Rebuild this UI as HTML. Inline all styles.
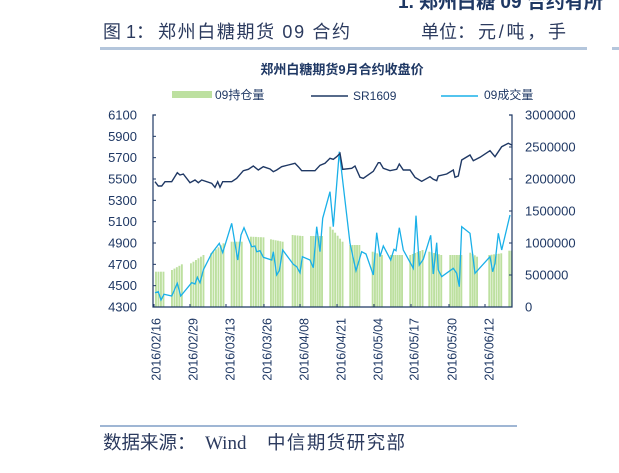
<!DOCTYPE html>
<html><head><meta charset="utf-8"><style>
html,body{margin:0;padding:0;background:#fff;width:619px;height:473px;overflow:hidden}
svg{display:block}
</style></head><body>
<svg id="s" width="619" height="473" xmlns="http://www.w3.org/2000/svg" font-family="Liberation Sans, Noto Sans CJK SC, sans-serif">
<text x="398" y="8" font-size="19" font-weight="bold" fill="#1f3864">1. 郑州白糖 09 合约有所</text>
<text x="103" y="38" font-size="18" fill="#2b3a5e">图 1：</text>
<text x="158" y="38" font-size="18" fill="#2b3a5e" textLength="192">郑州白糖期货 09 合约</text>
<text x="421" y="38" font-size="18" fill="#2b3a5e">单位：</text>
<text x="478" y="38" font-size="18" fill="#2b3a5e" textLength="88">元/吨，手</text>
<rect x="100" y="47" width="487" height="3" fill="#b4c6dc"/>
<rect x="612" y="47" width="7" height="3" fill="#b4c6dc"/>
<text x="342" y="74" font-size="13" font-weight="bold" fill="#1f3864" text-anchor="middle">郑州白糖期货9月合约收盘价</text>
<rect x="172" y="91" width="40" height="7" fill="#bde0a0"/>
<text x="215" y="99" font-size="12" fill="#1f3864">09持仓量</text>
<line x1="311" y1="96" x2="348" y2="96" stroke="#1f3864" stroke-width="1.5"/>
<text x="353" y="100" font-size="12" fill="#1f3864">SR1609</text>
<line x1="441" y1="96" x2="478" y2="96" stroke="#1ab0e8" stroke-width="1.5"/>
<text x="484" y="99" font-size="12" fill="#1f3864">09成交量</text>
<g id="plot"></g>
<rect x="100" y="425" width="417" height="2" fill="#9fb6d4"/>
<text x="103" y="449" font-size="18.5" fill="#2b3a5e">数据来源：</text>
<text x="205" y="449" font-size="19" fill="#2b3a5e" font-family="Liberation Serif, serif">Wind</text>
<text x="267" y="449" font-size="18.5" fill="#2b3a5e" textLength="138">中信期货研究部</text>
</svg>
<script>
const g=document.getElementById('plot');let h='';
const L=153,R=512,T=115,B=307;
const groups=[[45,75,515,515],[93,130,510,493],[150,195,490,465],[210,255,460,430],[272,310,425,425],[330,375,410,412],[390,432,418,425],[455,492,405,408],[510,550,408,408],[568,612,380,425],[628,662,435,435],[695,730,455,465],[750,790,465,465],[808,852,465,450],[865,908,455,465],[928,968,465,465],[988,1015,458,470],[1045,1088,465,460],[1105,1118,452,452]];
for(const [a,b,t1,t2] of groups){const xa=a/3+140,xb=b/3+140;const n=Math.max(1,Math.round((xb-xa)/2.4));for(let i=0;i<n;i++){const x=xa+i*(xb-xa)/n;const t=(n>1?t1+(t2-t1)*i/(n-1):t1)/3+100;h+=`<rect x="${x.toFixed(1)}" y="${t.toFixed(1)}" width="1.9" height="${(B-t).toFixed(1)}" fill="#bde0a0"/>`;}}
h+=`<path d="M${L+3} ${T}H${L}V${B}H${R}V${T}H${R-3}" fill="none" stroke="#1f3864" stroke-width="1.2"/>`;
for(let i=0;i<10;i++){const y=T+(B-T)*i/9;h+=`<line x1="${L}" y1="${y}" x2="${L+3}" y2="${y}" stroke="#1f3864"/><text x="137" y="${y+4.5}" font-size="13" fill="#1f3864" text-anchor="end">${6100-200*i}</text>`;}
for(let i=0;i<7;i++){const y=T+(B-T)*i/6;h+=`<line x1="${R-3}" y1="${y}" x2="${R}" y2="${y}" stroke="#1f3864"/><text x="525" y="${y+4.5}" font-size="13" fill="#1f3864">${3000000-500000*i}</text>`;}
const tx=[154,190,226,264,300,337,374,411,449,485];tx.forEach(x=>h+=`<line x1="${x}" y1="${B}" x2="${x}" y2="${B-3}" stroke="#1f3864"/>`);
const lab=['02/16','02/29','03/13','03/26','04/08','04/21','05/04','05/17','05/30','06/12'];const lx=[156,193,230,267,304,341,378,414,452,489];
lab.forEach((l,i)=>h+=`<text transform="translate(${lx[i]+4.5},318) rotate(-90)" font-size="12.5" fill="#1f3864" text-anchor="end">2016/${l}</text>`);
const cv=p=>p.map(([x,y])=>`${(x/3+140).toFixed(1)},${(y/3+100).toFixed(1)}`).join(' ');
const vol=[[45,578],[55,575],[63,600],[72,583],[95,588],[112,550],[122,588],[155,548],[165,552],[172,532],[180,548],[190,510],[215,460],[238,430],[248,458],[275,370],[293,480],[303,405],[312,383],[335,440],[345,438],[350,455],[360,452],[370,472],[395,480],[400,455],[410,525],[418,512],[428,450],[460,493],[470,500],[480,518],[487,470],[510,480],[520,503],[530,380],[540,455],[548,355],[570,275],[580,380],[598,155],[630,430],[648,512],[665,455],[678,462],[700,525],[710,398],[720,470],[730,438],[752,480],[762,448],[768,452],[778,383],[790,450],[820,505],[828,347],[838,495],[850,478],[872,406],[880,522],[890,428],[895,510],[905,530],[940,505],[950,520],[958,560],[965,380],[990,400],[1005,520],[1050,470],[1058,515],[1065,490],[1075,400],[1085,450],[1110,345]];
const pr=[[45,245],[55,258],[65,258],[75,245],[95,245],[112,218],[120,225],[130,222],[150,248],[165,240],[175,248],[185,240],[215,250],[225,262],[233,245],[240,262],[248,245],[275,245],[290,235],[310,212],[325,208],[340,198],[355,210],[370,200],[390,207],[400,215],[410,210],[425,200],[445,195],[465,190],[475,200],[485,212],[525,212],[540,196],[555,190],[570,175],[580,178],[590,170],[600,160],[608,208],[635,205],[645,198],[660,232],[670,235],[700,214],[715,188],[720,188],[730,205],[750,212],[770,208],[778,192],[790,210],[810,210],[825,232],[845,244],[870,230],[880,238],[890,242],[895,228],[920,222],[940,210],[945,232],[955,228],[965,180],[990,165],[1000,182],[1020,172],[1050,152],[1065,170],[1085,140],[1105,130],[1115,135]];
h+=`<polyline points="${cv(vol)}" fill="none" stroke="#1ab0e8" stroke-width="1.3"/>`;
h+=`<polyline points="${cv(pr)}" fill="none" stroke="#1f3864" stroke-width="1.4"/>`;
g.innerHTML=h;
</script>
</body></html>
